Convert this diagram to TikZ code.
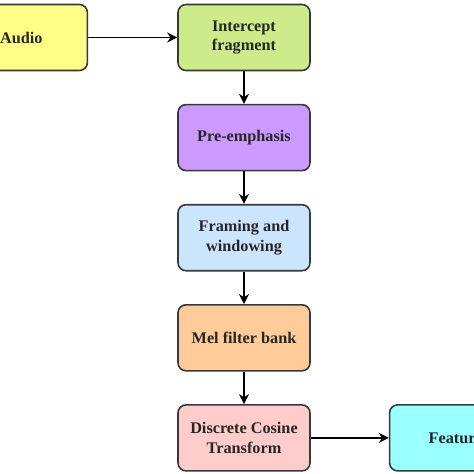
\documentclass[tikz,border=0pt]{standalone}
\usepackage{fontspec}
\setmainfont{Liberation Serif}
\usepackage{tikz}
\usetikzlibrary{arrows.meta, positioning}

\definecolor{audioC}{HTML}{FFFF88}
\definecolor{cutC}{HTML}{CDEB8B}
\definecolor{preC}{HTML}{CC99FF}
\definecolor{frameC}{HTML}{CCE5FF}
\definecolor{melC}{HTML}{FFCC99}
\definecolor{dctC}{HTML}{FFCCCC}
\definecolor{featC}{HTML}{99FFFF}
\definecolor{edgeC}{HTML}{36393D}

\begin{document}
\begin{tikzpicture}[every node/.style={align=center},
    arrow/.style={-{Stealth[length=10bp, width=10bp]}, line width=1.6bp, black},
    custom/.style={
        draw=edgeC,
        line width=1.6bp,
        rounded corners=8bp,
        minimum width=132bp,
        minimum height=66bp,
        font=\fontsize{16.3}{20}\selectfont\bfseries,
        text=black!85
    }]

    \useasboundingbox (0,0) rectangle (474bp,-474bp);

    % Main column
    \node[custom, fill=cutC] (cut) at (244bp,-37.5bp) {Intercept\\fragment};
    \node[custom, fill=audioC, left=89bp of cut] (audio) {Audio};
    \draw[arrow] (audio.east) -- (cut.west);

    \node[custom, fill=preC, below=32.5bp of cut] (pre) {Pre-emphasis};
    \draw[arrow] (cut.south) -- (pre.north);

    \node[custom, fill=frameC, below=32.5bp of pre] (frame) {Framing and\\windowing};
    \draw[arrow] (pre.south) -- (frame.north);

    \node[custom, fill=melC, below=32.5bp of frame] (mel) {Mel filter bank};
    \draw[arrow] (frame.south) -- (mel.north);

    % Last row
    \node[custom, fill=dctC, below=32.5bp of mel] (dct) {Discrete Cosine\\Transform};
    \draw[arrow] (mel.south) -- (dct.north);

    \node[custom, fill=featC, right=78bp of dct] (feat) {Feature};
    \draw[arrow] (dct.east) -- (feat.west);

\end{tikzpicture}
\end{document}
